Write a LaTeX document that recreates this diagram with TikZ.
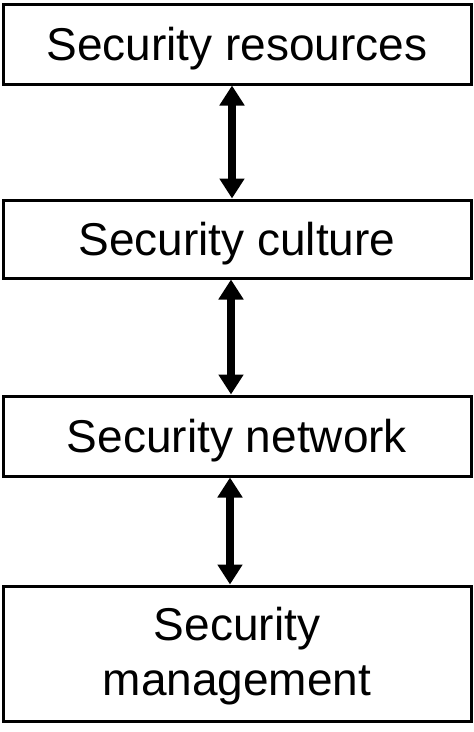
\documentclass[tikz,border=0pt]{standalone}
\usepackage{fontspec}
\setmainfont{Liberation Sans}
\usetikzlibrary{arrows.meta}
\begin{document}
\begin{tikzpicture}[x=1pt,y=1pt,
  box/.style={draw,line width=3pt,rectangle,minimum width=468pt,inner sep=0pt},
  lbl/.style={font=\fontsize{46}{55}\selectfont,anchor=base,inner sep=0pt},
  link/.style={line width=7.5pt,{Triangle[width=24pt,length=20pt]}-{Triangle[width=24pt,length=20pt]}}]
\useasboundingbox (0,0) rectangle (474,-732);
\node[box,minimum height=80pt] (b1) at (237,-44) {};
\node[box,minimum height=78pt] (b2) at (237,-239) {};
\node[box,minimum height=80pt] (b3) at (237,-436) {};
\node[box,minimum height=135pt] (b4) at (237,-653.5) {};
\node[lbl] (t1) at (237,-60) {Security resources};
\node[lbl] (t2) at (237,-255) {Security culture};
\node[lbl] (t3) at (237,-452) {Security network};
\node[lbl] (t4) at (237,-640) {Security};
\node[lbl] (t5) at (237,-695) {management};
\draw[link] ([xshift=-5pt]b1.south) -- ([xshift=-5pt]b2.north);
\draw[link] ([xshift=-6pt]b2.south) -- ([xshift=-6pt]b3.north);
\draw[link] ([xshift=-7pt]b3.south) -- ([xshift=-7pt]b4.north);
\end{tikzpicture}
\end{document}
